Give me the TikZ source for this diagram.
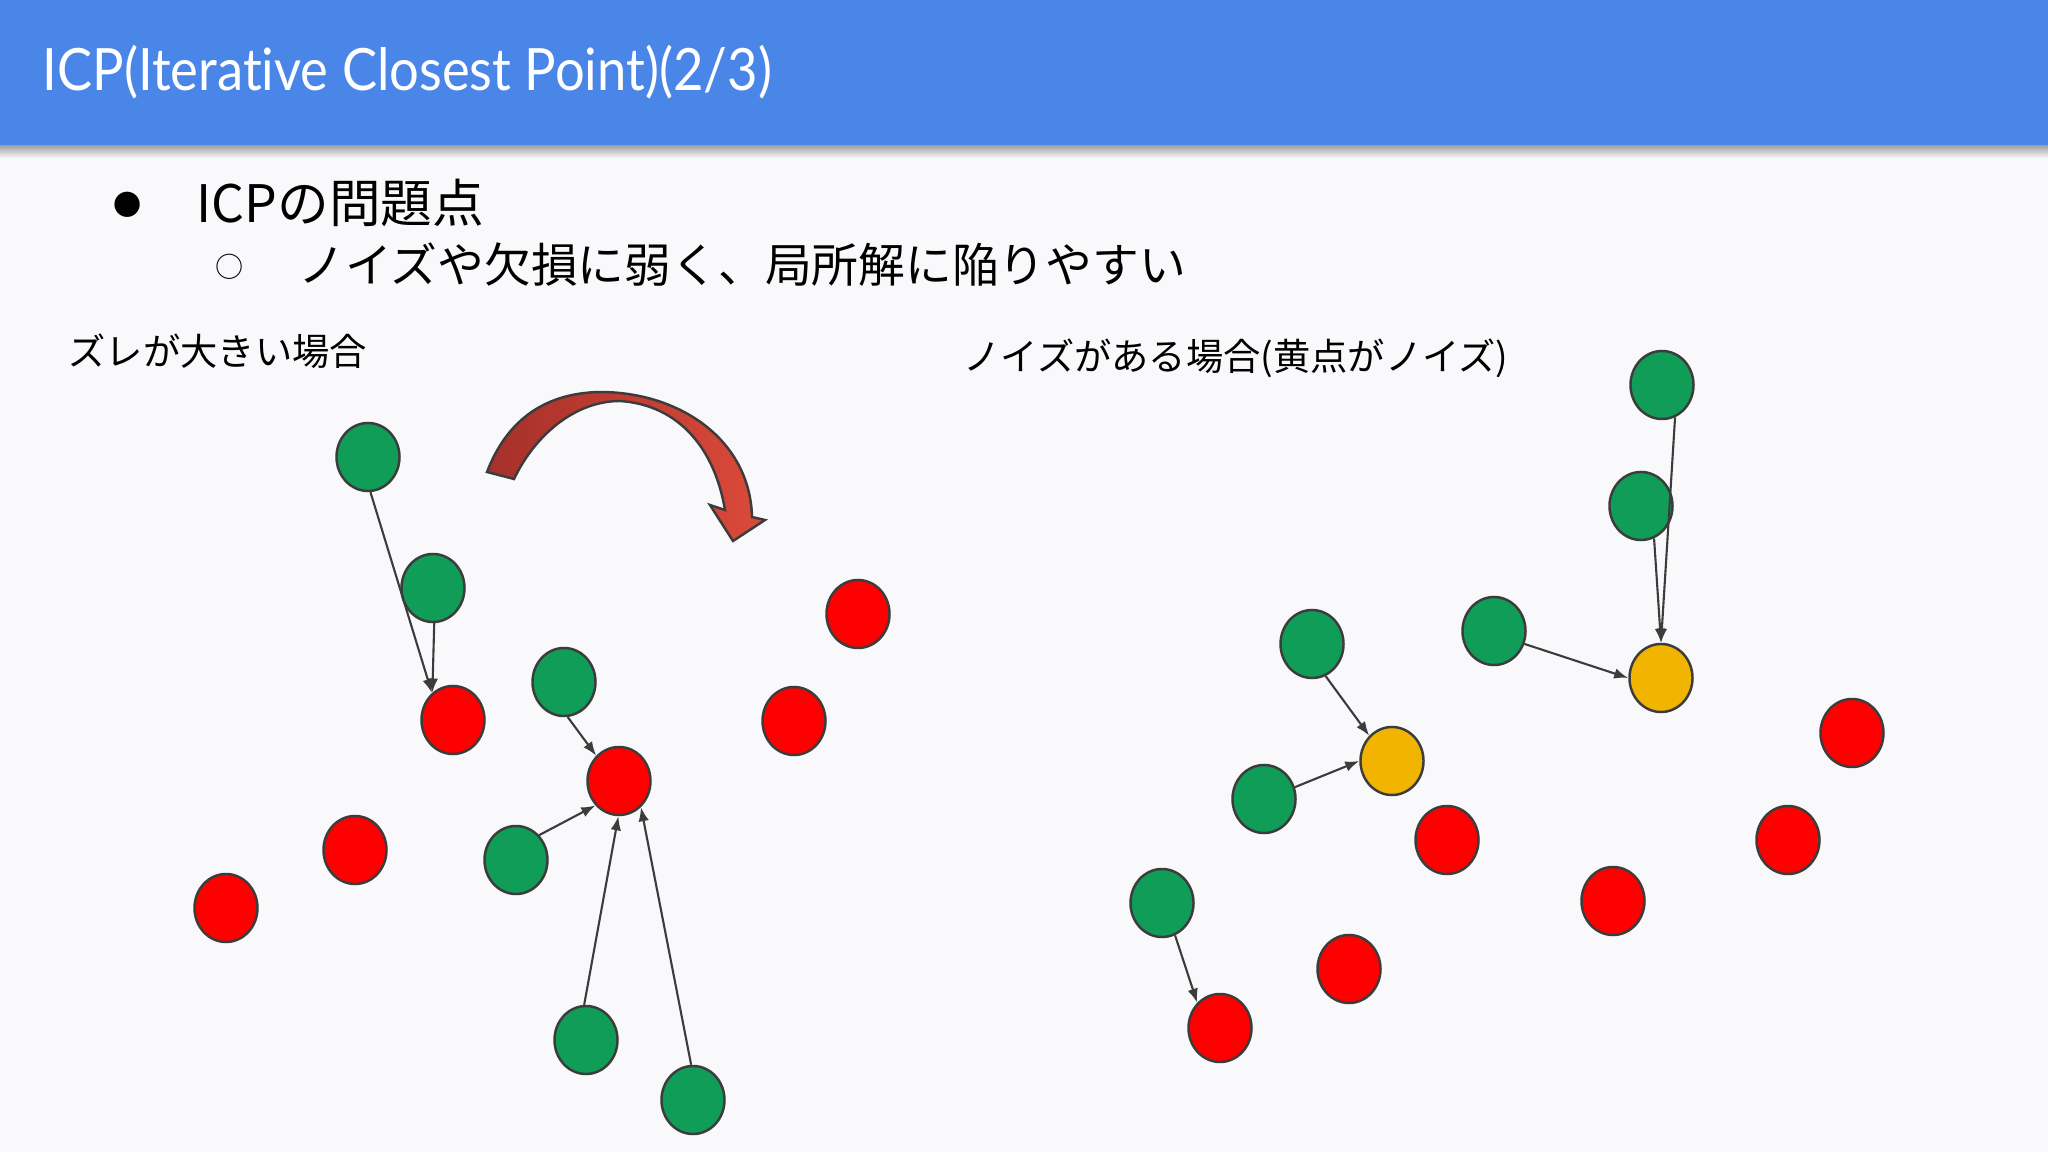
\documentclass[tikz,border=0pt]{standalone}
\usepackage{fontspec}
\usepackage{xcolor}
\usepackage{tikz}
\usetikzlibrary{shapes.geometric,arrows.meta}
\setmainfont{Noto Sans CJK JP}
\newfontfamily\titlefont[FakeStretch=0.9,Ligatures=NoCommon]{Lato}

\definecolor{slidebg}{HTML}{F9F9FB}
\definecolor{titleblue}{HTML}{4A86E8}
\definecolor{ptgreen}{HTML}{0F9D58}
\definecolor{ptred}{HTML}{FF0000}
\definecolor{ptyellow}{HTML}{F1B400}
\definecolor{outline}{HTML}{3C3C3C}
\definecolor{arrowdark}{HTML}{A5302A}
\definecolor{arrowlight}{HTML}{DC4A3A}

\begin{document}
\begin{tikzpicture}[
                x=0.01cm,y=-0.01cm,
                point/.style={ellipse,draw=outline,line width=0.7pt,minimum width=0.63cm,minimum height=0.68cm,inner sep=0pt},
                src/.style={point,fill=ptgreen},
                dst/.style={point,fill=ptred},
                noise/.style={point,fill=ptyellow},
                connection/.style={-{Latex[length=4pt,width=3pt]},draw=outline,line width=0.6pt},
                textline/.style={anchor=west,inner sep=0pt},
                casetext/.style={textline,font=\fontsize{10.6}{12}\selectfont},
                turnarrow/.style={draw=outline,line width=0.7pt,left color=arrowdark,right color=arrowlight},
            ]

            \useasboundingbox (0,0) rectangle (2048,1152);
            \fill[slidebg] (0,0) rectangle (2048,1152);
            \fill[titleblue] (0,0) rectangle (2048,146);
            \shade[top color=black!35,bottom color=slidebg] (0,146) rectangle (2048,158);

            \node[anchor=base west,inner sep=0pt,text=white,font=\titlefont\fontsize{16.6}{20}\selectfont] (title) at (42,91) {ICP(Iterative Closest Point)(2/3)};

            \node[font=\fontsize{8}{10}\selectfont] (bullet1) at (128,205) {●};
            \node[textline,font=\fontsize{14.7}{17}\selectfont] (issue) at (196,203) {ICPの問題点};
            \node[font=\fontsize{8}{10}\selectfont] (bullet2) at (230,267) {○};
            \node[textline,font=\fontsize{13.3}{16}\selectfont] (detail) at (298,265) {ノイズや欠損に弱く、局所解に陥りやすい};

            \node[casetext] (shiftcase) at (68,351) {ズレが大きい場合};
            \node[casetext] (noisecase) at (963,358) {ノイズがある場合(黄点がノイズ)};

            \draw[turnarrow] (487,472) .. controls (505,425) and (540,393) .. (600,392)
                .. controls (680,392) and (750,440) .. (752,517)
                -- (765,520) -- (733,541) -- (710,505) -- (725,510)
                .. controls (715,450) and (680,405) .. (620,401)
                .. controls (575,401) and (535,435) .. (514,479) -- cycle;

            \foreach \n/\x/\y in {src1/368/457,src2/433/588,src3/564/682,src4/516/860,src5/586/1040,src6/693/1100} {
                \node[src] (\n) at (\x,\y) {};
            }
            \foreach \n/\x/\y in {dst1/453/720,dst2/619/781,dst3/858/614,dst4/794/721,dst5/355/850,dst6/226/908} {
                \node[dst] (\n) at (\x,\y) {};
            }

            \foreach \n/\x/\y in {nsrc1/1662/385,nsrc2/1641/506,nsrc3/1494/631,nsrc4/1312/644,nsrc5/1264/799,nsrc6/1162/903} {
                \node[src] (\n) at (\x,\y) {};
            }
            \foreach \n/\x/\y in {noise1/1661/678,noise2/1392/761} {
                \node[noise] (\n) at (\x,\y) {};
            }
            \foreach \n/\x/\y in {ndst1/1852/733,ndst2/1447/840,ndst3/1788/840,ndst4/1613/901,ndst5/1349/969,ndst6/1220/1028} {
                \node[dst] (\n) at (\x,\y) {};
            }

            \foreach \a/\b in {src1.-86/dst1.128,src2.-88/dst1.127,src3.-84/dst2.132,src4.47/dst2.-134,src5.93/dst2.-91,src6.93/dst2.-50} {
                \draw[connection] (\a) -- (\b);
            }
            \foreach \a/\b in {nsrc1.-68/noise1.north,nsrc2.-68/noise1.north,nsrc3.-23/noise1.west,nsrc4.-67/noise2.132,nsrc5.21/noise2.west,nsrc6.-68/ndst6.132} {
                \draw[connection] (\a) -- (\b);
            }
        \end{tikzpicture}
\end{document}
